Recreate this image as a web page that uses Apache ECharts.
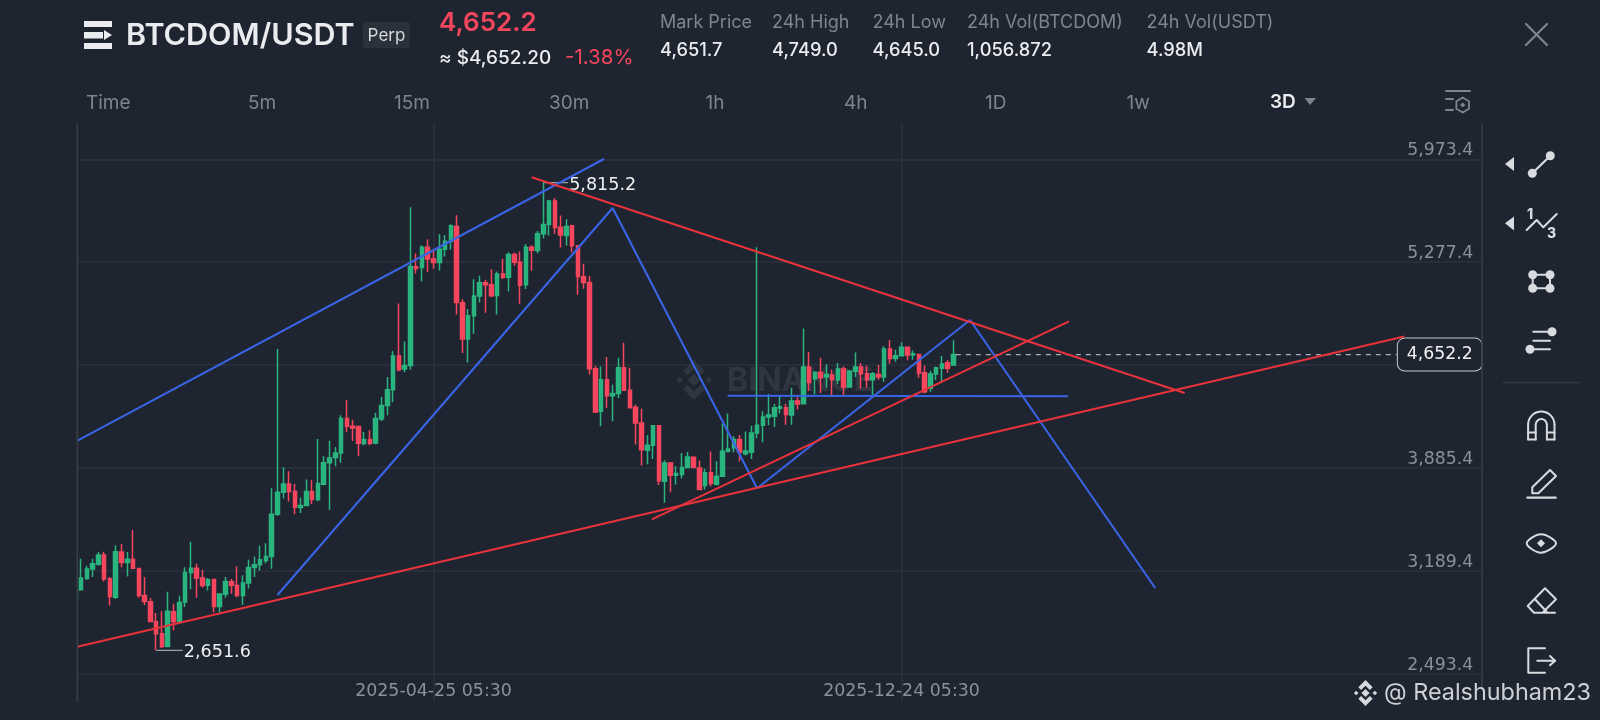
<!DOCTYPE html>
<html><head><meta charset="utf-8">
<style>html,body{margin:0;padding:0;background:#1f2530}#c{width:1600px;height:720px}</style>
<script src="https://cdn.jsdelivr.net/npm/echarts@6/dist/echarts.min.js"></script>
</head><body><div id="c"></div>
<script>
const opens=[3005,3061,3138,3201,3234,3297,3135,3011,3316,3246,3268,3205,3023,2980,2845,2764,2678,2912,2847,2978,3178,3207,3140,3092,3131,2948,3030,3115,3090,3023,3106,3212,3230,3259,3286,3572,3721,3777,3725,3617,3631,3725,3671,3775,3921,3955,3987,4219,4167,4165,4050,4077,4054,4217,4307,4415,4642,4554,4579,5246,5241,5379,5298,5275,5365,5419,5518,5003,4757,4915,5048,5138,5124,5052,5198,5176,5329,5277,5124,5379,5356,5469,5532,5692,5514,5458,5523,5388,5178,5140,4557,4268,4482,4374,4388,4563,4410,4295,4190,4005,4039,4171,3795,3919,3836,3840,3888,3957,3885,3766,3852,3775,3829,3996,4021,4077,3982,3991,4122,4174,4230,4235,4289,4293,4244,4338,4320,4568,4489,4532,4500,4514,4480,4554,4433,4539,4568,4523,4482,4518,4500,4690,4626,4644,4701,4649,4653,4530,4424,4521,4559,4597,4582];
const closes=[3061,3140,3201,3237,3297,3133,3016,3318,3246,3268,3207,3023,2982,2847,2764,2678,2915,2847,2975,3178,3207,3140,3090,3129,2948,3032,3117,3092,3023,3106,3212,3230,3264,3286,3572,3721,3777,3725,3620,3631,3725,3671,3780,3921,3953,3987,4219,4167,4156,4052,4077,4052,4219,4307,4415,4642,4550,4579,5248,5235,5379,5298,5275,5365,5419,5523,5005,4757,4915,5048,5138,5124,5050,5198,5174,5329,5277,5122,5379,5358,5469,5532,5692,5512,5462,5518,5388,5180,5140,4557,4264,4482,4374,4388,4563,4410,4293,4190,4009,4039,4171,3798,3919,3836,3847,3888,3960,3890,3739,3852,3780,3829,3998,4014,4077,3991,4000,4122,4174,4230,4244,4293,4300,4246,4338,4318,4568,4464,4532,4496,4518,4482,4554,4433,4541,4568,4523,4482,4523,4500,4690,4626,4644,4701,4649,4658,4527,4400,4521,4563,4588,4559,4652.2];
const lows=[2989,3056,3129,3147,3223,3117,2955,2998,3214,3151,3201,3007,2957,2843,2651.6,2667,2674,2786,2840,2944,3065,3007,3077,3056,2908,2908,3007,3034,3011,2960,3070,3147,3189,3241,3203,3560,3678,3658,3572,3581,3626,3642,3660,3768,3601,3897,3919,4126,4068,3964,4039,4039,4045,4201,4241,4329,4539,4532,4550,5201,5149,5210,5232,5221,5316,5361,4924,4662,4599,4793,5005,4935,5041,4924,5165,5079,5253,4996,5095,5219,5338,5437,5458,5469,5376,5388,5345,5057,5097,4518,4257,4167,4293,4201,4358,4406,4289,4043,3901,3910,3946,3770,3649,3721,3773,3813,3883,3881,3734,3739,3761,3766,3825,3991,3991,3930,3969,3946,4086,4059,4174,4162,4253,4178,4178,4280,4316,4406,4383,4392,4428,4379,4451,4376,4428,4500,4421,4428,4376,4482,4469,4590,4604,4640,4613,4617,4496,4390,4401,4480,4469,4530,4575];
const highs=[3072,3270,3223,3270,3316,3318,3147,3363,3370,3316,3466,3207,3147,3005,2903,2915,3047,2966,3020,3214,3385,3237,3196,3140,3133,3038,3147,3133,3219,3160,3264,3286,3358,3376,3748,4690,3890,3863,3777,3683,3807,3802,4081,3964,4070,4027,4241,4345,4212,4165,4129,4140,4259,4365,4500,4676,4998,4741,5649,5336,5392,5433,5361,5467,5462,5534,5595,5027,4960,5162,5185,5158,5230,5214,5300,5345,5343,5350,5401,5392,5489,5815.2,5699,5712,5593,5568,5530,5394,5266,5185,4577,4572,4635,4448,4631,4732,4563,4313,4286,4108,4176,4171,3937,3926,3897,3987,3993,3964,3935,3879,3996,3930,4185,4253,4099,4108,4131,4171,5379,4268,4385,4320,4374,4320,4428,4363,4829,4669,4532,4631,4586,4550,4595,4572,4541,4667,4595,4577,4534,4584,4708,4750,4685,4735,4703,4680,4653,4579,4543,4570,4643,4615,4749];
const priceTicks=[2493.4,3189.4,3885.4,4581.4,5277.4,5973.4];
const labelledPriceTicks=[2493.4,3189.4,3885.4,5277.4,5973.4];
const slotCount=244, firstDate=Date.UTC(2024,9,21), dateTickIdx=[62,143];
const categories=Array.from({length:slotCount},(_,i)=>new Date(firstDate+i*3*864e5).toISOString().slice(0,10)+' 05:30');
const lastPrice=4652.2, highPrice=5815.2, lowPrice=2651.6;
const blueWedgeUpper=[[0.3,4068],[91.5,5975]];
const blueZigzag=[[35,3026],[93,5644],[118,3748],[154.85,4886],[186.9,3073]];
const blueLevel=[[112.9,4374],[171.8,4370]];
const redFalling=[[79,5852],[192,4392]];
const redRisingInner=[[99.8,3537],[172,4877]];
const redRisingOuter=[[0.35,2676],[230,4774]];
const lastPriceLine=[[152.4,lastPrice],[228.9,lastPrice]];
const highLeader=[[81,highPrice],[85.3,highPrice]];
const lowLeader=[[14,lowPrice],[18.6,lowPrice]];

const BG='#1f2530',BLUE='#3a64e6',RED='#e8333c',UP='#2ab57f',DN='#f6465d',FONT='Inter, "Noto Sans", sans-serif',AXF='"DejaVu Sans", sans-serif';
const GREY='#7d8591',WHITE='#eaecef',ICON='#d8dbe0';
const chart=echarts.init(document.getElementById('c'),null,{renderer:'canvas'});
const T=(x,y,text,size,fill,weight,align)=>({type:'text',x,y,z:60,style:{text,fill,font:`${weight||400} ${size}px ${FONT}`,textVerticalAlign:'middle',textAlign:align||'left'}});
const L=(x1,y1,x2,y2,w,c)=>({type:'line',z:60,shape:{x1,y1,x2,y2},style:{stroke:c||ICON,lineWidth:w||2,lineCap:'round'}});
const C=(cx,cy,r,c)=>({type:'circle',z:60,shape:{cx,cy,r},style:{fill:c||ICON}});
const R=(x,y,w,h,c,r)=>({type:'rect',z:60,shape:{x,y,width:w,height:h,r:r||0},style:{fill:c}});
const P=(pts,c,z)=>({type:'polygon',z:z||60,shape:{points:pts},style:{fill:c}});
const PL=(pts,w,c)=>({type:'polyline',z:60,shape:{points:pts},style:{stroke:c||ICON,lineWidth:w||2,fill:'none',lineJoin:'round',lineCap:'round'}});
const PG=(pts,w,c,sm)=>({type:'polygon',z:60,shape:{points:pts,smooth:sm||0},style:{stroke:c||ICON,lineWidth:w||2,fill:'none',lineJoin:'round'}});
const A=(cx,cy,r,w,c)=>({type:'arc',z:60,shape:{cx,cy,r,startAngle:Math.PI,endAngle:2*Math.PI,clockwise:true},style:{stroke:c||ICON,lineWidth:w||2,fill:'none'}});
const D=(cx,cy,r,c,z)=>P([[cx,cy-r],[cx+r,cy],[cx,cy+r],[cx-r,cy]],c,z);
function bnb(cx,cy,r,c,z){
  const s=r*0.42,m=r*0.72;
  return [D(cx,cy,s*0.75,c,z),D(cx-m,cy,s*0.42,c,z),D(cx+m,cy,s*0.42,c,z),
    P([[cx,cy-r],[cx+r*0.55,cy-r*0.45],[cx+r*0.34,cy-r*0.24],[cx,cy-r*0.56],[cx-r*0.34,cy-r*0.24],[cx-r*0.55,cy-r*0.45]],c,z),
    P([[cx,cy+r],[cx+r*0.55,cy+r*0.45],[cx+r*0.34,cy+r*0.24],[cx,cy+r*0.56],[cx-r*0.34,cy+r*0.24],[cx-r*0.55,cy+r*0.45]],c,z)];
}
const tf=[[86,'Time'],[248,'5m'],[394,'15m'],[549,'30m'],[705.5,'1h'],[844,'4h'],[985,'1D'],[1126.5,'1w']];
const stats=[[660,'Mark Price','4,651.7'],[772,'24h High','4,749.0'],[872.5,'24h Low','4,645.0'],[967,'24h Vol(BTCDOM)','1,056.872'],[1146.5,'24h Vol(USDT)','4.98M']];
const graphics=[
  {type:'rect',z:50,shape:{x:0,y:110,width:77,height:610},style:{fill:BG}},
  {type:'rect',z:50,shape:{x:1482.5,y:110,width:117,height:610},style:{fill:BG}},
  {type:'line',z:51,shape:{x1:77.3,y1:123,x2:77.3,y2:701.7},style:{stroke:'#383e48',lineWidth:1.5}},
  {type:'line',z:51,shape:{x1:1482,y1:123,x2:1482,y2:691},style:{stroke:'#383e48',lineWidth:1.5}},
  // header
  R(84,21,28,6,WHITE),R(84,32,19,6.5,WHITE),P([[104,30],[112,35],[104,40]],WHITE),R(84,43,28,6,WHITE),
  T(126,36,'BTCDOM/USDT',30.5,WHITE,600),
  R(363,22,47,26,'#2b313b',3),T(386.5,36,'Perp',17,'#d5d8dd',400,'center'),
  T(439,23,'4,652.2',26,DN,600),
  T(439,58,'≈ $4,652.20',19,WHITE,500),
  T(565,58,'-1.38%',20.5,DN,400),
  ...stats.flatMap(s=>[T(s[0],23,s[1],18,GREY,400),T(s[0],50.5,s[2],18.3,WHITE,500)]),
  ...tf.map(t=>T(t[0],103,t[1],19,GREY,400)),
  T(1270,102.5,'3D',19,WHITE,600),P([[1304.5,98],[1316,98],[1310,105]],GREY),
  L(1526,24,1547,45,2.2,GREY),L(1547,24,1526,45,2.2,GREY),
  L(1446,91,1470,91,2,GREY),L(1446,99,1453,99,2,GREY),L(1446,110,1453,110,2,GREY),
  PG([[1462.7,97.5],[1469,101.2],[1469,108.8],[1462.7,112.5],[1456.4,108.8],[1456.4,101.2]],1.8,GREY),D(1462.7,105,2.6,GREY),
  // tools
  P([[1505,164],[1514,157],[1514,171]],ICON),L(1532.3,173.3,1550.3,155.7,2.2),C(1532.3,173.3,4.5),C(1550.3,155.7,4.5),
  P([[1505,223.3],[1514,216.5],[1514,230.5]],ICON),PL([[1526.7,230],[1536.7,220],[1543.3,227.3],[1556.7,214]],2),
  T(1530,215,'1',14,ICON,800,'center'),T(1551.7,233.5,'3',14,ICON,800,'center'),
  L(1532.7,274.7,1550,274.7),L(1532.7,288.3,1550,288.3),L(1532.7,274.7,1532.7,288.3),L(1550,274.7,1550,288.3),
  C(1532.7,274.7,4.5),C(1550,274.7,4.5),C(1532.7,288.3,4.5),C(1550,288.3,4.5),
  L(1533.3,331.7,1552,331.7),C(1552,331.7,4.5),L(1533.3,340.7,1550,340.7),L(1530,349.3,1550,349.3),C(1530,349.3,4.5),
  {type:'line',z:60,shape:{x1:1503,y1:382.5,x2:1580,y2:382.5},style:{stroke:'#343a44',lineWidth:1.5}},
  A(1541.3,424.7,13.2,2),A(1541.3,424.7,5.6,2),
  L(1528.1,424.7,1528.1,439.5),L(1554.5,424.7,1554.5,439.5),L(1535.7,424.7,1535.7,439.5),L(1546.9,424.7,1546.9,439.5),
  L(1528.1,439.5,1535.7,439.5),L(1546.9,439.5,1554.5,439.5),L(1528.1,432.5,1535.7,432.5),L(1546.9,432.5,1554.5,432.5),
  L(1527.3,497.7,1555.7,497.7,2.2),PG([[1532.3,493.3],[1532.3,487.3],[1550,470],[1556,476],[1538.3,493.3]],2),
  PG([[1526.7,543.3],[1541,534.3],[1556,543.3],[1541,552.7]],2,ICON,0.35),D(1541,543.3,4,ICON),
  PL([[1555,612.7],[1534,612.7],[1527.7,606],[1545,588.3],[1556,599.3],[1542.5,612.7]],2),L(1535,599.3,1546.7,611.7,2),
  PL([[1545,648.3],[1528.3,648.3],[1528.3,672.7],[1545,672.7]],2),L(1537.3,660.7,1555,660.7,2),PL([[1550,656],[1555,660.7],[1550,665.3]],2),
  // watermarks
  ...bnb(694,380,20,'#2f3641',1),
  {type:'text',x:727,y:381,z:1,style:{text:'BINANCE',fill:'#2f3641',font:`700 32px ${FONT}`,textVerticalAlign:'middle'}},
  ...bnb(1365.5,693,13,'#d5d8dc',70),
  {type:'text',x:1384,y:693,z:70,style:{text:'@ Realshubham23',fill:'#cdd0d5',font:`400 23.4px ${FONT}`,textVerticalAlign:'middle'}}
];
const lineS=(name,data,color,width,extra)=>Object.assign({name,type:'line',xAxisIndex:1,yAxisIndex:0,data,showSymbol:false,symbol:'none',silent:true,z:5,animation:false,lineStyle:{color,width}},extra||{});
const fmt=v=>Number(v).toLocaleString('en-US',{minimumFractionDigits:1,maximumFractionDigits:1});
chart.setOption({
  animation:false,backgroundColor:BG,
  graphic:{elements:graphics},
  grid:{left:72.4,right:117.8,top:123,bottom:18.3,containLabel:false},
  xAxis:[{type:'category',data:categories,boundaryGap:true,axisLine:{show:false},axisTick:{show:false},axisLabel:{show:false},splitLine:{show:false}},
    {type:'value',min:-0.5,max:slotCount-0.5,position:'bottom',axisLine:{show:false},
      axisTick:{show:false,customValues:dateTickIdx},
      axisLabel:{inside:true,margin:2,customValues:dateTickIdx,showMinLabel:true,showMaxLabel:true,color:'#8a919c',fontSize:17.4,fontFamily:AXF,formatter:v=>categories[Math.round(v)]},
      splitLine:{show:true,lineStyle:{color:'#2c323c',width:1.5}}}],
  yAxis:{type:'value',position:'right',min:2303.7,max:6218.9,axisLine:{show:false},
    axisTick:{show:false,customValues:priceTicks},
    axisLabel:{inside:true,margin:9,customValues:labelledPriceTicks,color:'#8a919c',fontSize:17.3,fontFamily:AXF,verticalAlign:'bottom',formatter:fmt},
    splitLine:{show:true,lineStyle:{color:'#2c323c',width:1.5}}},
  series:[
    {type:'candlestick',xAxisIndex:0,yAxisIndex:0,z:2,barWidth:4,silent:true,
     data:opens.map((o,i)=>[o,closes[i],lows[i],highs[i]]),
     itemStyle:{color:UP,color0:DN,borderColor:UP,borderColor0:DN,borderWidth:1.5}},
    lineS('l1',blueWedgeUpper,BLUE,2.1),
    lineS('l2',blueZigzag,BLUE,2.1),
    lineS('l3',blueLevel,BLUE,2.1),
    lineS('l4',redFalling,RED,2.1),
    lineS('l5',redRisingInner,RED,2.1),
    lineS('l6',redRisingOuter,RED,2.1),
    lineS('last',lastPriceLine,'#a8adb5',1.2,{lineStyle:{color:'#a8adb5',width:1.2,type:[5,5]},z:4,
      endLabel:{show:true,distance:0,formatter:()=>fmt(lastPrice),color:'#f0f1f3',fontSize:17.3,fontFamily:AXF,
        backgroundColor:BG,borderColor:'#c4c8ce',borderWidth:1,borderRadius:7,padding:[8,9,7,9]}}),
    lineS('high',highLeader,'#9aa0a9',1.2,{z:4,endLabel:{show:true,distance:1,offset:[0,3],formatter:()=>fmt(highPrice),color:'#eceef0',fontSize:17.6,fontFamily:AXF}}),
    lineS('low',lowLeader,'#9aa0a9',1.2,{z:4,endLabel:{show:true,distance:1,offset:[0,2],formatter:()=>fmt(lowPrice),color:'#eceef0',fontSize:17.6,fontFamily:AXF}})
  ]
});
</script></body></html>
